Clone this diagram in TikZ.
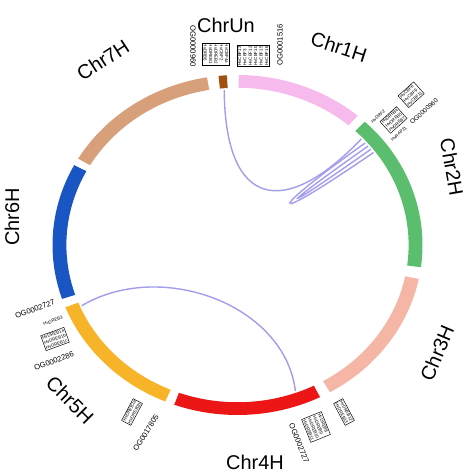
\documentclass[tikz,border=0pt]{standalone}
\usepackage{fontspec}
\setmainfont{Liberation Sans}
\usepackage{xcolor}
\definecolor{cUn}{RGB}{160,80,15}
\definecolor{cOne}{RGB}{246,187,236}
\definecolor{cTwo}{RGB}{90,190,110}
\definecolor{cThree}{RGB}{245,182,166}
\definecolor{cFour}{RGB}{236,22,22}
\definecolor{cFive}{RGB}{248,180,40}
\definecolor{cSix}{RGB}{25,85,195}
\definecolor{cSeven}{RGB}{215,160,122}
\definecolor{linkblue}{RGB}{162,157,236}
\usepackage{tikz}
\tikzset{
  chrband/.style={
    fill=#1,
    draw=none
  },
  chrlabel/.style={
    font=\fontsize{17}{20}\selectfont,
    inner sep=0pt
  },
  genebox/.style={
    draw=black,
    line width=0.4pt,
    fill=white,
    inner sep=0.8pt,
    align=left,
    font=\fontsize{3.8}{4.6}\selectfont
  },
  genetext/.style={
    inner sep=0.5pt,
    font=\fontsize{3.8}{4.6}\selectfont
  },
  oglabel/.style={
    inner sep=0.5pt,
    font=\fontsize{6.5}{7.5}\selectfont
  },
  circolink/.style={
    draw=linkblue,
    line width=1.2pt
  }
}

\begin{document}
\begin{tikzpicture}[x=0.03cm, y=0.03cm]
  \useasboundingbox (0,0) rectangle (474,474);

  % chromosome ring
  \begin{scope}[shift={(237.5,229)}, xscale=185, yscale=170]
    \fill[chrband=cUn] (93.3:1) arc[start angle=93.3, end angle=95.9, radius=1] -- (95.9:0.925) arc[start angle=95.9, end angle=93.3, radius=0.925] -- cycle;
    \fill[chrband=cOne] (49.5:1) arc[start angle=49.5, end angle=89.6, radius=1] -- (89.6:0.925) arc[start angle=89.6, end angle=49.5, radius=0.925] -- cycle;
    \fill[chrband=cTwo] (-7.5:1) arc[start angle=-7.5, end angle=46.5, radius=1] -- (46.5:0.925) arc[start angle=46.5, end angle=-7.5, radius=0.925] -- cycle;
    \fill[chrband=cThree] (-60:1) arc[start angle=-60, end angle=-11.5, radius=1] -- (-11.5:0.925) arc[start angle=-11.5, end angle=-60, radius=0.925] -- cycle;
    \fill[chrband=cFour] (-110:1) arc[start angle=-110, end angle=-63.5, radius=1] -- (-63.5:0.925) arc[start angle=-63.5, end angle=-110, radius=0.925] -- cycle;
    \fill[chrband=cFive] (-158.5:1) arc[start angle=-158.5, end angle=-113, radius=1] -- (-113:0.925) arc[start angle=-113, end angle=-158.5, radius=0.925] -- cycle;
    \fill[chrband=cSix] (152:1) arc[start angle=152, end angle=198.5, radius=1] -- (198.5:0.925) arc[start angle=198.5, end angle=152, radius=0.925] -- cycle;
    \fill[chrband=cSeven] (99.5:1) arc[start angle=99.5, end angle=149.5, radius=1] -- (149.5:0.925) arc[start angle=149.5, end angle=99.5, radius=0.925] -- cycle;
    % link ends
    \coordinate (lnkUn) at (94.5:0.915);
    \coordinate (lnk2a) at (43:0.915);
    \coordinate (lnk2b) at (41:0.915);
    \coordinate (lnk2c) at (39.5:0.915);
    \coordinate (lnk2d) at (38:0.915);
    \coordinate (lnk2e) at (36.5:0.915);
    \coordinate (lnk5) at (-157:0.915);
    \coordinate (lnk4) at (-70:0.915);
  \end{scope}

  % links
  \draw[circolink] (lnkUn) .. controls (225,265) and (285,255) .. (lnk2a);
  \draw[circolink] (lnk2b) .. controls (268,262) and (259,243) .. (lnk2e);
  \draw[circolink] (lnk2c) .. controls (276,263) and (272,255) .. (lnk2d);
  \draw[circolink] (lnk5) .. controls (160,215) and (285,170) .. (lnk4);

  % chromosome names
  \node[chrlabel] (nUn) at (226,449) {ChrUn};
  \node[chrlabel, rotate=-18] (n1) at (339,427) {Chr1H};
  \node[chrlabel, rotate=-80] (n2) at (452,307) {Chr2H};
  \node[chrlabel, rotate=67] (n3) at (437,121) {Chr3H};
  \node[chrlabel] (n4) at (255,12) {Chr4H};
  \node[chrlabel, rotate=-45] (n5) at (70,74) {Chr5H};
  \node[chrlabel, rotate=90] (n6) at (12,257) {Chr6H};
  \node[chrlabel, rotate=33] (n7) at (103,414) {Chr7H};

  % gene labels
  \node[oglabel, rotate=-90] (og1) at (193,428) {OG0000960};
  \node[genebox, rotate=-90] (g1) at (216,420) {HvCBF4a\\HvCBF2\\HvDREB2\\HvDREB1\\HvDRB6};
  \node[genebox, rotate=90] (g2) at (253,418) {HvCBF13\\HvCBF3\\HvCBF12\\HvCBF10\\HvCBF15\\HvCBF16};
  \node[oglabel, rotate=90] (og2) at (280,429) {OG0001516};

  \begin{scope}[shift={(398,358)}, rotate=42, transform shape]
    \node[genetext] (g3a) at (-15,13) {HvDRF2};
    \node[genebox] (g3b) at (-6,0) {HvDREB4\\HvDREB5\\HvDREB7};
    \node[genebox] (g3c) at (24,7) {HvCBF6\\HvCBF9\\HvCBF11};
    \node[genetext, anchor=west] (g3d) at (-22,-14) {HvRAP21};
    \node[oglabel, anchor=west, font=\fontsize{5.5}{6}\selectfont] (og3) at (4,-14) {OG0000960};
  \end{scope}

  \node[oglabel, rotate=20] (og4a) at (35,165) {OG0002727};
  \node[genetext, rotate=20] (g4t) at (53,153) {HvDREB3};
  \node[genebox, rotate=20] (g4) at (55,135) {HvDREB1a\\HvDREB1b\\HvDREB1c};
  \node[oglabel, rotate=20] (og4b) at (54,113) {OG0002286};

  \node[genebox, rotate=62] (g5) at (132,62) {HvDREB2a\\HvDREB2b};
  \node[oglabel, rotate=58] (og5) at (146,41) {OG0017805};

  \node[oglabel, rotate=-68] (og6) at (299,31) {OG0002727};
  \node[genebox, rotate=-68] (g6) at (316,47) {HvDREB8\\HvDREB9\\HvDREB10\\HvDREB11};

  \node[genebox, rotate=-62] (g7) at (344,62) {HvDREB12\\HvDREB13};
\end{tikzpicture}
\end{document}
